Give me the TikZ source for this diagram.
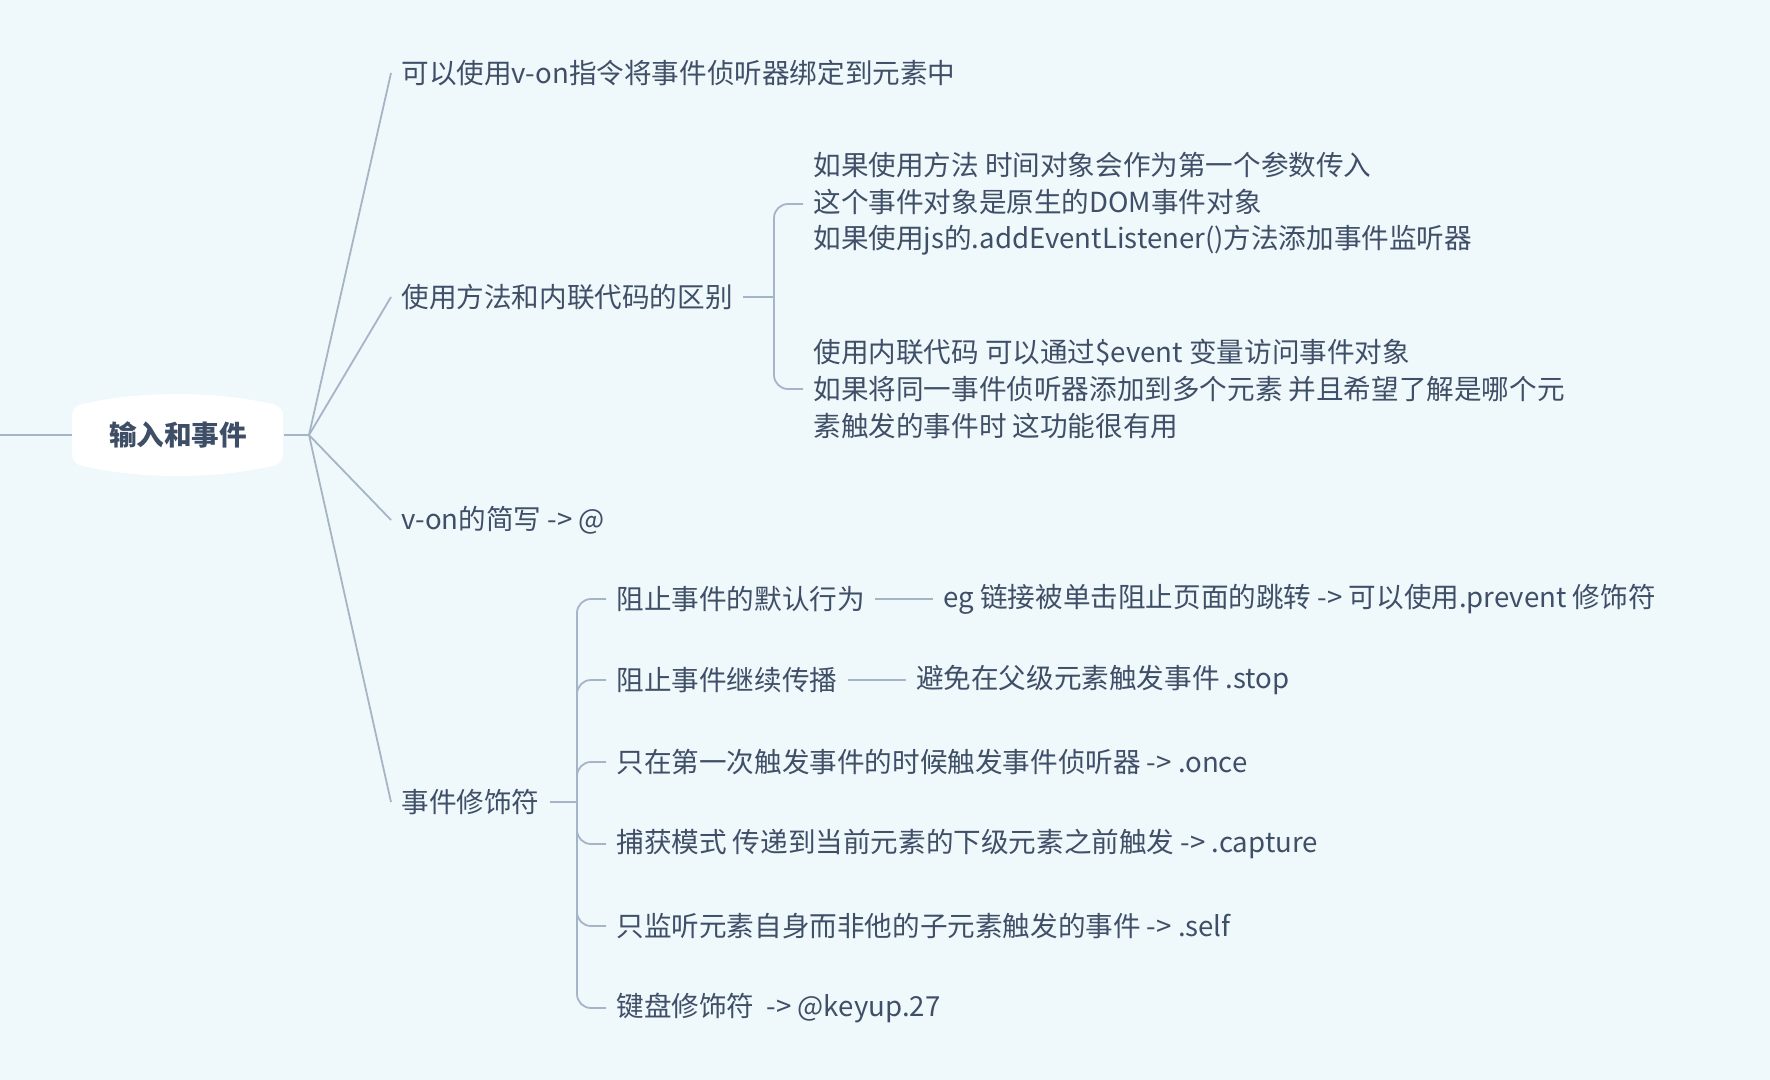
\documentclass[tikz,border=0pt]{standalone}
\usepackage{fontspec}
\setmainfont{Noto Sans CJK SC}
\usetikzlibrary{positioning}

\definecolor{bgcol}{RGB}{239,248,251}
\definecolor{txtcol}{RGB}{64,79,104}
\definecolor{rootcol}{RGB}{62,78,102}
\definecolor{linecol}{RGB}{166,180,199}

\begin{document}
\begin{tikzpicture}[x=0.5pt,y=-0.5pt]

    \tikzstyle{topic}=[anchor=west,inner sep=5pt,text=txtcol,font=\fontsize{13.8}{18.3}\selectfont]
    \tikzstyle{block}=[topic,align=left]
    \tikzstyle{branch}=[draw=linecol,line width=0.9pt]
    \tikzstyle{bracket}=[branch,rounded corners=7pt]

\useasboundingbox (0,0) rectangle (1770,1080);
\fill[bgcol] (0,0) rectangle (1770,1080);

\coordinate (origo) at (309,435);
\coordinate (in_end) at (0,435);

% central topic
\fill[white] (72,415) -- (72,455) .. controls (72,462) and (78,466) .. (88,467) .. controls (140,479) and (215,479) .. (267,467) .. controls (277,466) and (283,462) .. (283,455) -- (283,415) .. controls (283,408) and (277,404) .. (267,403) .. controls (215,391) and (140,391) .. (88,403) .. controls (78,404) and (72,408) .. (72,415) -- cycle;
\node (root) [inner sep=0pt,minimum width=105.5pt,minimum height=42pt,text=rootcol,font=\bfseries\fontsize{13.8}{16}\selectfont] at (178,435) {输入和事件};

\draw[branch] (in_end) -- (root.west);
\draw[branch] (root.east) -- (origo);

\node (bind) [topic] at (391,73) {可以使用v-on指令将事件侦听器绑定到元素中};
\node (diff) [topic] at (391,297) {使用方法和内联代码的区别};
\node (short) [topic] at (391,520) {v-on的简写 -> @};
\node (mods) [topic] at (391,802) {事件修饰符};

\foreach \n in {bind,diff,short,mods} \draw[branch] (origo) -- (\n.west);

% method vs inline
\coordinate (diff_fork) at (774,297);
\draw[branch] (diff.east) -- (diff_fork);

\node (method) [block] at (803,204) {如果使用方法 时间对象会作为第一个参数传入\\这个事件对象是原生的DOM事件对象\\如果使用js的.addEventListener()方法添加事件监听器};
\node (inline) [block] at (803,389) {使用内联代码 可以通过\$event 变量访问事件对象\\如果将同一事件侦听器添加到多个元素 并且希望了解是哪个元\\素触发的事件时 这功能很有用};

\foreach \n in {method,inline} \draw[bracket] (diff_fork) |- (\n.west);

% modifiers
\coordinate (mods_fork) at (577,802);
\draw[branch] (mods.east) -- (mods_fork);

\node (prevent) [topic] at (606,599) {阻止事件的默认行为};
\node (stop) [topic] at (606,680) {阻止事件继续传播};
\node (once) [topic] at (606,762) {只在第一次触发事件的时候触发事件侦听器 -> .once};
\node (capture) [topic] at (606,844) {捕获模式 传递到当前元素的下级元素之前触发 -> .capture};
\node (self) [topic] at (606,926) {只监听元素自身而非他的子元素触发的事件 -> .self};
\node (keyup) [topic] at (606,1008) {键盘修饰符\ \ -> @keyup.27};

\foreach \n in {prevent,stop,once,capture,self,keyup} \draw[bracket] (mods_fork) |- (\n.west);

\node (prevent_eg) [topic,right=29pt of prevent] {eg 链接被单击阻止页面的跳转 -> 可以使用.prevent 修饰符};
\node (stop_eg) [topic,right=29pt of stop] {避免在父级元素触发事件 .stop};

\draw[branch] (prevent) -- (prevent_eg);
\draw[branch] (stop) -- (stop_eg);

\end{tikzpicture}
\end{document}
